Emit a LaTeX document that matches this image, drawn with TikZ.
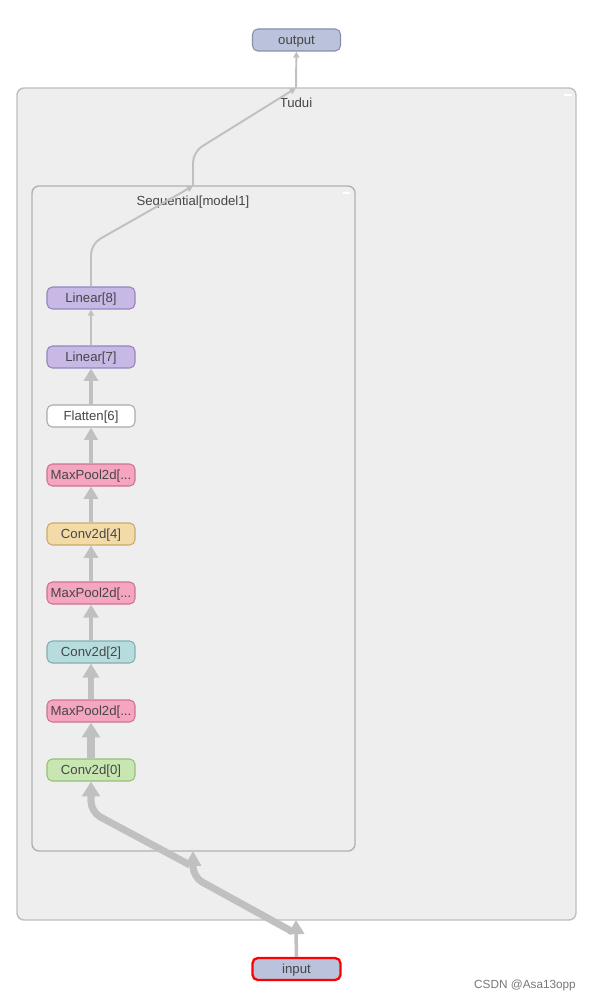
\documentclass[tikz,border=0pt]{standalone}
\usepackage{fontspec}
\setmainfont{Liberation Sans}
\usepackage{xcolor}
\usetikzlibrary{arrows.meta,positioning,calc}
\definecolor{edgegray}{RGB}{192,192,192}
\definecolor{boxfill}{RGB}{238,238,238}
\definecolor{boxline}{RGB}{190,190,190}
\definecolor{txtgray}{RGB}{70,70,70}
\definecolor{iofill}{RGB}{186,194,220}
\definecolor{ioline}{RGB}{134,143,176}
\definecolor{linfill}{RGB}{199,184,229}
\definecolor{linline}{RGB}{150,132,190}
\definecolor{poolfill}{RGB}{245,165,192}
\definecolor{poolline}{RGB}{205,115,148}
\definecolor{cfourfill}{RGB}{243,219,168}
\definecolor{cfourline}{RGB}{200,170,110}
\definecolor{ctwofill}{RGB}{183,220,222}
\definecolor{ctwoline}{RGB}{130,175,178}
\definecolor{czerofill}{RGB}{200,230,178}
\definecolor{czeroline}{RGB}{150,192,120}
\definecolor{flatline}{RGB}{170,170,170}
\definecolor{wmgray}{RGB}{120,120,120}

\begin{document}
\begin{tikzpicture}[x=0.02cm,y=-0.02cm,
  layer/.style={draw,rounded corners=3pt,minimum width=1.76cm,minimum height=0.44cm,
                inner sep=0pt,line width=0.6pt,text=txtgray,font=\fontsize{7.5}{9}\selectfont,
                text height=5.4pt,text depth=0.2pt},
  group/.style={draw=boxline,fill=boxfill,rounded corners=4pt,line width=0.8pt},
  grouplbl/.style={text=txtgray,font=\fontsize{7.5}{9}\selectfont},
  edge/.style={draw=edgegray,line cap=butt}]
  \useasboundingbox[fill=white] (0,0) rectangle (596,1003);
  % nested module frames
  \draw[group] (17,88) rectangle (576,920);
  \node[grouplbl] (tuduilbl) at (296,102.5) {Tudui};
  \draw[white,line width=1.2pt] (564,95) -- (572,95);
  \draw[group,draw=flatline!90] (32,186) rectangle (355,851);
  \node[grouplbl] (seqlbl) at (193,202.5) {Sequential[model1]};
  \draw[white,line width=1.2pt] (343,193) -- (350,193);
  % ports on the frame borders
  \coordinate (tin) at (296,920);
  \coordinate (sin) at (193,851);
  \coordinate (sout) at (193,186);
  \coordinate (tout) at (296,88);
  % layers of the sequential block
  \foreach \n/\t/\f/\d/\y in {c0/{Conv2d[0]}/czerofill/czeroline/770,
                              mp1/{MaxPool2d[...}/poolfill/poolline/711,
                              c2/{Conv2d[2]}/ctwofill/ctwoline/652,
                              mp3/{MaxPool2d[...}/poolfill/poolline/593,
                              c4/{Conv2d[4]}/cfourfill/cfourline/534,
                              mp5/{MaxPool2d[...}/poolfill/poolline/475,
                              fl/{Flatten[6]}/white/flatline/416,
                              l7/{Linear[7]}/linfill/linline/357,
                              l8/{Linear[8]}/linfill/linline/298}{
    \node[layer,fill=\f,draw=\d] (\n) at (91,\y) {\t};}
  \node[layer,fill=iofill,draw=ioline] (out) at (296.5,40) {output};
  \node[layer,fill=iofill,draw=red,line width=1.3pt] (in) at (296.5,969) {input};
  % data flow, thinner as the tensors shrink
  \foreach \a/\b/\w/\h/\l in {c0/mp1/4/10/8.5, mp1/c2/2.9/9/8, c2/mp3/2.8/8.5/7.5,
                              mp3/c4/2.4/8/7, c4/mp5/2.3/8/7, mp5/fl/2.2/7.5/7,
                              fl/l7/2.2/8/7, l7/l8/1.1/3.5/3.5}
    \draw[edge,line width=\w pt,-{Triangle[width=\h pt,length=\l pt]}] (\a) -- (\b);
  \draw[edge,line width=4pt,rounded corners=6pt,-{Triangle[width=9pt,length=8.5pt]}]
    ($(tin)+(-3,12)$) -- (193,877) -- (sin);
  \draw[edge,line width=4pt,rounded corners=6pt,-{Triangle[width=10pt,length=8.5pt]}]
    ($(sin)+(-3,14)$) -- (91,812) -- (c0);
  \draw[edge,line width=2pt,-{Triangle[width=9pt,length=8pt]}] (in) -- (tin);
  \draw[edge,line width=1.1pt,rounded corners=6pt,-{Triangle[width=3.5pt,length=3.5pt]}]
    (l8) -- (91,244) -- (sout);
  \draw[edge,line width=1.1pt,rounded corners=6pt,-{Triangle[width=3.5pt,length=3.5pt]}]
    (sout) -- (193,152) -- (tout);
  \draw[edge,line width=1.1pt,-{Triangle[width=3.5pt,length=3.5pt]}] (tout) -- (out);
  \node[anchor=west,text=wmgray,font=\fontsize{6.7}{8}\selectfont] (wm) at (468,985) {CSDN @Asa13opp};
\end{tikzpicture}
\end{document}
